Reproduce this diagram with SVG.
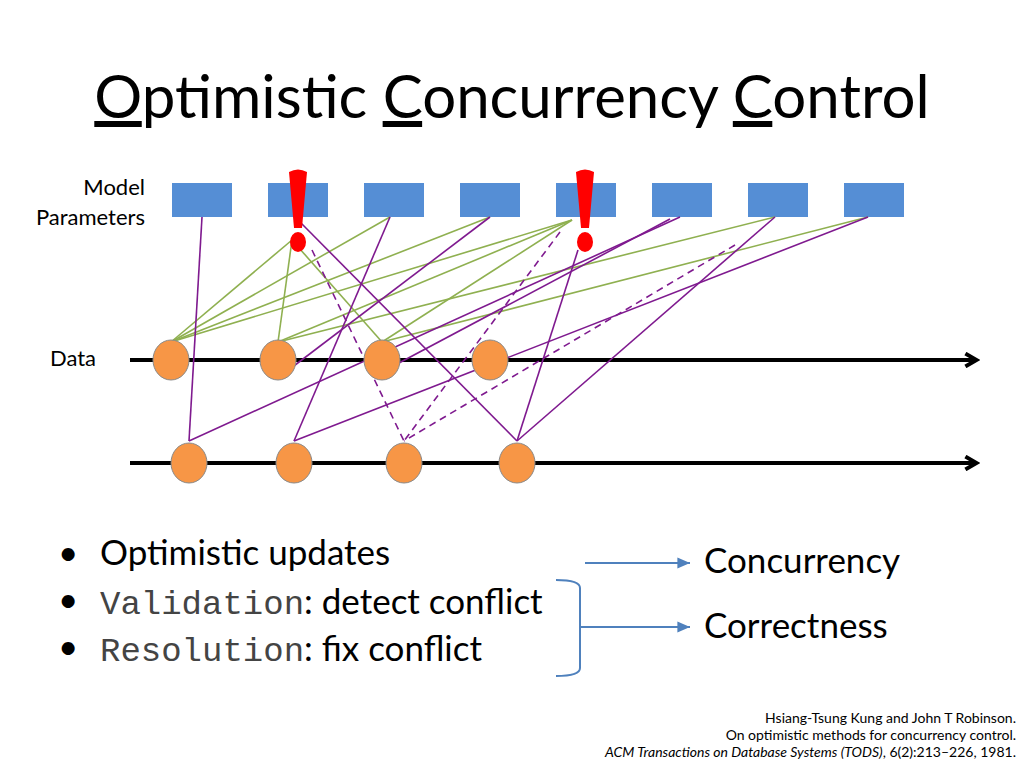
<svg xmlns="http://www.w3.org/2000/svg" width="1024" height="768" viewBox="0 0 1024 768">
<defs>
<style>
.t{font-family:"Lato","Liberation Sans",sans-serif;fill:#000}
.box{fill:#558ed5}
.c{fill:#f79646;stroke:#8a8a8a;stroke-width:1}
.p{stroke:#7f1a8f;stroke-width:1.6;fill:none}
.d{stroke:#7f1a8f;stroke-width:1.6;stroke-dasharray:7,5;fill:none}
.g{stroke:#8fb050;stroke-width:1.6;fill:none}
.ax{stroke:#000;stroke-width:4;fill:none}
.bl{stroke:#4f81bd;stroke-width:2;fill:none}
.m{font-family:"Liberation Mono",monospace;fill:#444}
</style>
<marker id="ah" viewBox="0 0 10 10" refX="7" refY="5" markerWidth="4" markerHeight="4" orient="auto"><path d="M1,1 L8,5 L1,9" stroke="#000" stroke-width="2.5" fill="none"/></marker>
<marker id="bh" viewBox="0 0 10 10" refX="9" refY="5" markerWidth="7" markerHeight="7" orient="auto"><path d="M0,1 L9,5 L0,9 Z" fill="#4f81bd"/></marker>
</defs>
<rect width="1024" height="768" fill="#fff"/>
<text class="t" x="512" y="118" font-size="60" text-anchor="middle"><tspan text-decoration="underline">O</tspan>ptimistic <tspan text-decoration="underline">C</tspan>oncurrency <tspan text-decoration="underline">C</tspan>ontrol</text>
<text class="t" x="145" y="195" font-size="22" text-anchor="end">Model</text>
<text class="t" x="145" y="225" font-size="22" text-anchor="end">Parameters</text>
<text class="t" x="96" y="366" font-size="22" text-anchor="end">Data</text>
<g id="axes">
<line class="ax" x1="130" y1="360" x2="975" y2="360" marker-end="url(#ah)"/>
<line class="ax" x1="130" y1="463" x2="975" y2="463" marker-end="url(#ah)"/>
</g>
<g id="params">
<rect class="box" x="172" y="183" width="60" height="34"/>
<rect class="box" x="268" y="183" width="60" height="34"/>
<rect class="box" x="364" y="183" width="60" height="34"/>
<rect class="box" x="460" y="183" width="60" height="34"/>
<rect class="box" x="556" y="183" width="60" height="34"/>
<rect class="box" x="652" y="183" width="60" height="34"/>
<rect class="box" x="748" y="183" width="60" height="34"/>
<rect class="box" x="844" y="183" width="60" height="34"/>
</g>
<g id="connectors">
<line class="g" x1="292" y1="240" x2="171" y2="342"/>
<line class="g" x1="292" y1="240" x2="278" y2="342"/>
<line class="g" x1="292" y1="240" x2="382" y2="342"/>
<line class="g" x1="390" y1="217" x2="171" y2="342"/>
<line class="g" x1="490" y1="217" x2="171" y2="342"/>
<line class="g" x1="572" y1="220" x2="171" y2="342"/>
<line class="g" x1="572" y1="220" x2="278" y2="342"/>
<line class="g" x1="572" y1="220" x2="382" y2="342"/>
<line class="g" x1="775" y1="217" x2="278" y2="342"/>
<line class="g" x1="868" y1="217" x2="382" y2="342"/>
<line class="p" x1="202" y1="217" x2="189" y2="441"/>
<line class="p" x1="300" y1="222" x2="517" y2="441"/>
<line class="p" x1="390" y1="217" x2="294" y2="441"/>
<line class="p" x1="490" y1="217" x2="278" y2="378"/>
<line class="p" x1="578" y1="250" x2="517" y2="441"/>
<line class="p" x1="680" y1="217" x2="189" y2="441"/>
<line class="p" x1="670" y1="219" x2="382" y2="372"/>
<line class="p" x1="775" y1="217" x2="517" y2="441"/>
<line class="p" x1="868" y1="217" x2="294" y2="441"/>
<line class="d" x1="312" y1="250" x2="404" y2="441"/>
<line class="d" x1="560" y1="232" x2="404" y2="441"/>
<line class="d" x1="735" y1="245" x2="404" y2="441"/>
</g>
<g id="data">
<ellipse class="c" cx="171" cy="360" rx="18" ry="20"/>
<ellipse class="c" cx="278" cy="360" rx="18" ry="20"/>
<ellipse class="c" cx="382" cy="360" rx="18" ry="20"/>
<ellipse class="c" cx="490" cy="360" rx="18" ry="20"/>
<ellipse class="c" cx="189" cy="463" rx="18" ry="20"/>
<ellipse class="c" cx="294" cy="463" rx="18" ry="20"/>
<ellipse class="c" cx="404" cy="463" rx="18" ry="20"/>
<ellipse class="c" cx="517" cy="463" rx="18" ry="20"/>
</g>
<g id="conflicts">
<path d="M289,172 Q298,167 307,172 L302,228 L294,228 Z" fill="#f00"/>
<ellipse cx="298" cy="242" rx="8" ry="10" fill="#f00"/>
<path d="M576,172 Q585,167 594,172 L589,228 L581,228 Z" fill="#f00"/>
<ellipse cx="585" cy="242" rx="8" ry="10" fill="#f00"/>
</g>
<g id="bullets" font-size="35">
<text class="t" x="58" y="565">•</text>
<text class="t" x="58" y="612">•</text>
<text class="t" x="58" y="659">•</text>
<text class="t" x="100" y="565">Optimistic updates</text>
<text x="100" y="614"><tspan class="m" font-size="34">Validation</tspan><tspan class="t">: detect conflict</tspan></text>
<text x="100" y="661"><tspan class="m" font-size="34">Resolution</tspan><tspan class="t">: fix conflict</tspan></text>
</g>
<g id="arrows">
<line class="bl" x1="585" y1="563" x2="690" y2="563" marker-end="url(#bh)"/>
<path class="bl" d="M556,580 Q580,580 580,588 L580,668 Q580,676 556,676"/>
<line class="bl" x1="580" y1="627" x2="690" y2="627" marker-end="url(#bh)"/>
<text class="t" x="704" y="573" font-size="35">Concurrency</text>
<text class="t" x="704" y="638" font-size="35">Correctness</text>
</g>
<g id="ref" font-size="14" text-anchor="end">
<text class="t" x="1016" y="723">Hsiang-Tsung Kung and John T Robinson.</text>
<text class="t" x="1016" y="740">On optimistic methods for concurrency control.</text>
<text class="t" x="1016" y="757"><tspan font-style="italic">ACM Transactions on Database Systems (TODS)</tspan>, 6(2):213–226, 1981.</text>
</g>
</svg>
